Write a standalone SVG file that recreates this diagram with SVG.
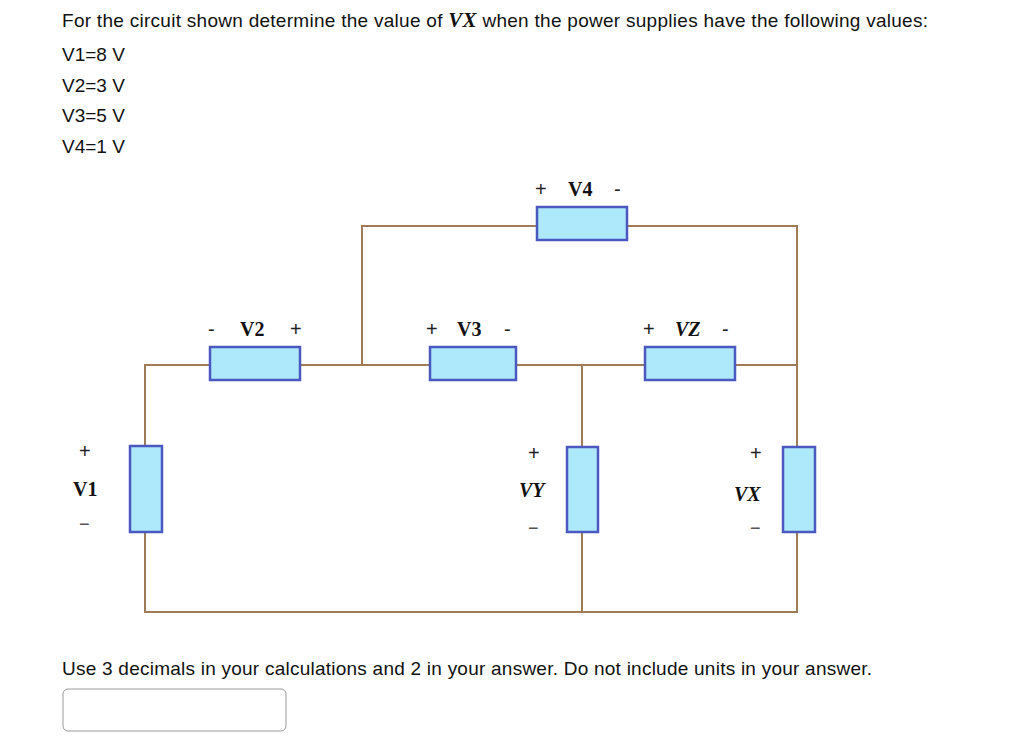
<svg xmlns="http://www.w3.org/2000/svg" width="1024" height="750" viewBox="0 0 1024 750">
<style>
.w{stroke:#a07b58;stroke-width:2;fill:none}
.r{fill:#aee9fb;stroke:#4a58c0;stroke-width:2.5}
.t{font-family:"Liberation Sans",Arial,sans-serif;font-size:19px;fill:#111}
.l{font-family:"Liberation Serif","Times New Roman",serif;font-size:20px;font-weight:bold;fill:#111}
.p{font-family:"Liberation Sans",Arial,sans-serif;font-size:20px;fill:#222}
.i{font-style:italic}
.s{font-family:"Liberation Sans",Arial,sans-serif;font-size:18px;fill:#555}
</style>
<rect width="1024" height="750" fill="#fff"/>
<text class="t" x="62" y="27" textLength="866">For the circuit shown determine the value of <tspan font-family="Liberation Serif" font-style="italic" font-weight="bold" font-size="21">VX</tspan> when the power supplies have the following values:</text>
<text class="t" x="62" y="61">V1=8 V</text>
<text class="t" x="62" y="92">V2=3 V</text>
<text class="t" x="62" y="122">V3=5 V</text>
<text class="t" x="62" y="153">V4=1 V</text>
<g id="wires">
<path class="w" d="M145,446 V365 H797 V226 H362 V365"/>
<path class="w" d="M145,532 V612 H797 V532"/>
<path class="w" d="M582,365 V612"/>
<path class="w" d="M797,365 V447"/>
</g>
<g id="V4"><rect class="r" x="537" y="207" width="90" height="33"/><text class="p" x="535" y="196">+</text><text class="l" x="568" y="196">V4</text><text class="p" x="614" y="196">-</text></g>
<g id="V2"><rect class="r" x="210" y="347" width="90" height="33"/><text class="p" x="208" y="336">-</text><text class="l" x="240" y="336">V2</text><text class="p" x="290" y="336">+</text></g>
<g id="V3"><rect class="r" x="430" y="347" width="86" height="33"/><text class="p" x="426" y="336">+</text><text class="l" x="457" y="336">V3</text><text class="p" x="504" y="336">-</text></g>
<g id="VZ"><rect class="r" x="645" y="347" width="90" height="33"/><text class="p" x="643" y="336">+</text><text class="l i" x="675" y="336">VZ</text><text class="p" x="722" y="336">-</text></g>
<g id="V1"><rect class="r" x="130" y="446" width="32" height="86"/><text class="p" x="79" y="458">+</text><text class="l" x="73" y="496">V1</text><text class="s" x="79" y="530">−</text></g>
<g id="VY"><rect class="r" x="567" y="447" width="31" height="85"/><text class="p" x="528" y="460">+</text><text class="l i" x="519" y="497">VY</text><text class="s" x="528" y="534">−</text></g>
<g id="VX"><rect class="r" x="783" y="447" width="32" height="85"/><text class="p" x="750" y="460">+</text><text class="l i" x="734" y="501">VX</text><text class="s" x="750" y="534">−</text></g>
<text class="t" x="62" y="675" textLength="810">Use 3 decimals in your calculations and 2 in your answer. Do not include units in your answer.</text>
<rect x="63" y="689" width="223" height="42" rx="5" fill="#fff" stroke="#999" stroke-width="1"/>
</svg>
